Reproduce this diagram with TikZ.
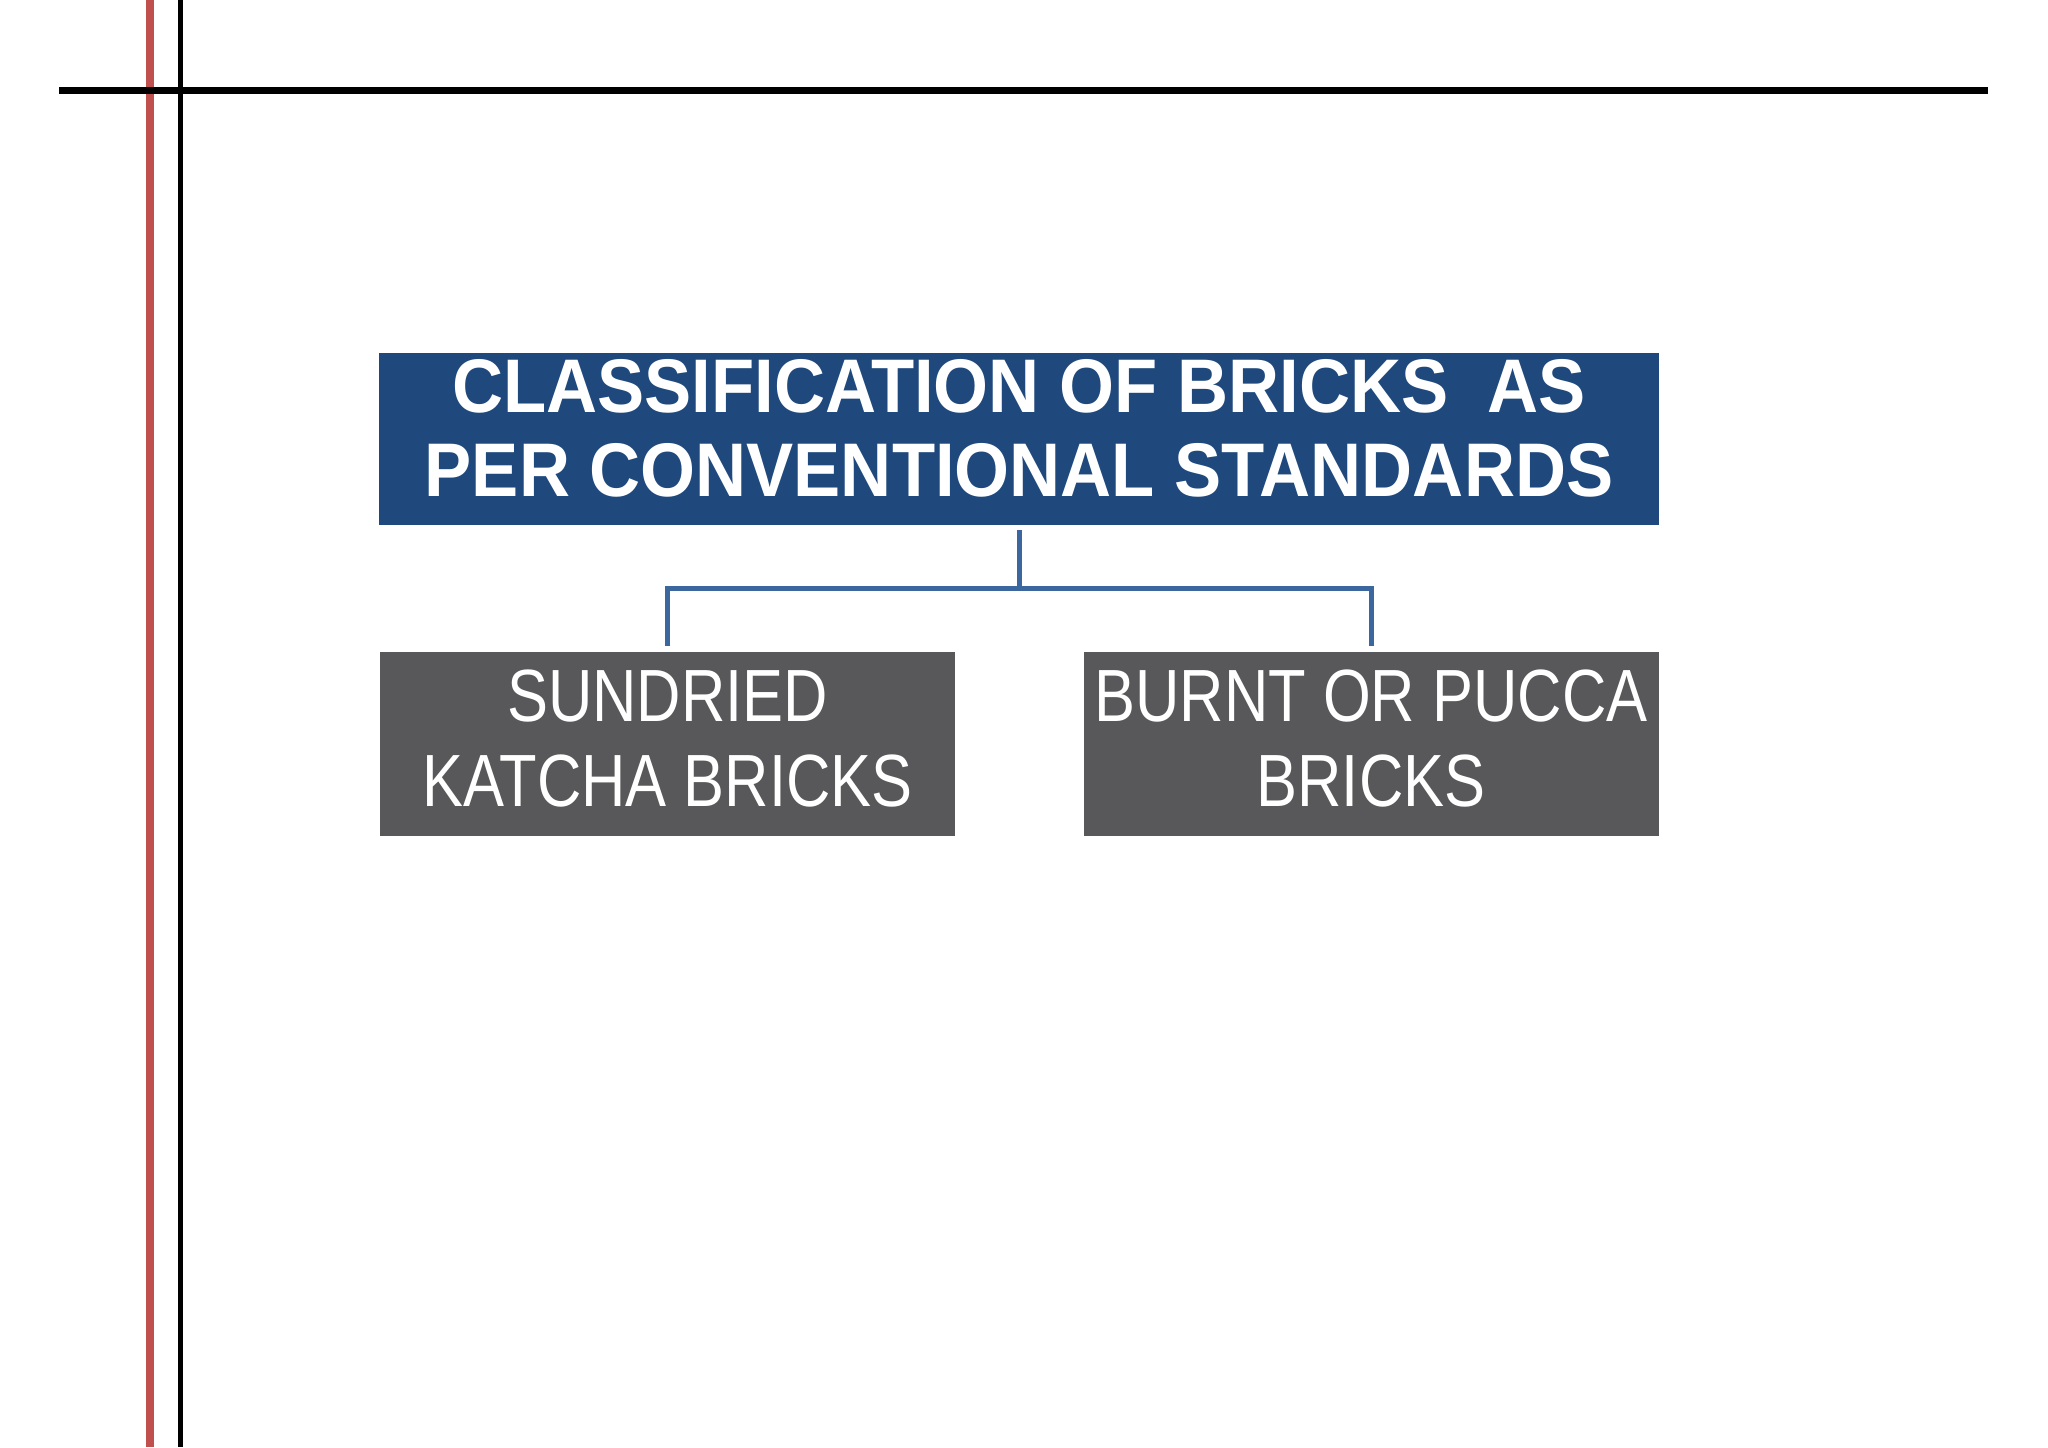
\documentclass[tikz,border=0pt]{standalone}
\usepackage{fontspec}
\setmainfont{Liberation Sans}
\newfontfamily\headfont[FakeStretch=0.93]{Liberation Sans}
\newfontfamily\leaffont[FakeStretch=0.83]{Liberation Sans}
\usetikzlibrary{positioning, calc}
\definecolor{headblue}{RGB}{31, 73, 125}
\definecolor{linkblue}{RGB}{60, 103, 158}
\definecolor{leafgrey}{RGB}{88, 88, 90}
\definecolor{marginred}{RGB}{192, 80, 77}

\begin{document}
\begin{tikzpicture}[x=0.5pt, y=-0.5pt]
        \tikzstyle{head} = [rectangle, fill=headblue, text=white, inner sep=0pt, minimum width=640pt, minimum height=86pt, align=center, text depth=11.5pt, font=\headfont\bfseries\fontsize{38pt}{42pt}\selectfont]
        \tikzstyle{leaf} = [rectangle, fill=leafgrey, text=white, inner sep=0pt, minimum width=287.5pt, minimum height=92pt, align=center, text depth=6pt, font=\leaffont\fontsize{37pt}{42.5pt}\selectfont]
        \tikzstyle{link} = [draw=linkblue, line width=2.5pt]

        \useasboundingbox (0,0) rectangle (2048,1447);
        \fill[white] (0,0) rectangle (2048,1447);

        \draw[marginred, line width=4pt] (150,0) -- (150,1447);
        \draw[black, line width=2.5pt] (180,0) -- (180,1447);
        \draw[black, line width=3.5pt] (59,90) -- (1988,90);

        \node[head] (title) at (1019,439) {CLASSIFICATION OF BRICKS~ AS\\PER CONVENTIONAL STANDARDS};
        \node[leaf] (sundried) at (667.5,744) {SUNDRIED\\KATCHA BRICKS};
        \node[leaf] (burnt) at (1371,744) {BURNT OR PUCCA\\BRICKS};

        \coordinate (hub) at (1019,588);
        \draw[link, shorten <=2.5pt] (title.south) -- (hub);
        \draw[link, shorten >=3pt] (hub) -| (sundried.north);
        \draw[link, shorten >=3pt] (hub) -| (burnt.north);
    \end{tikzpicture}
\end{document}
